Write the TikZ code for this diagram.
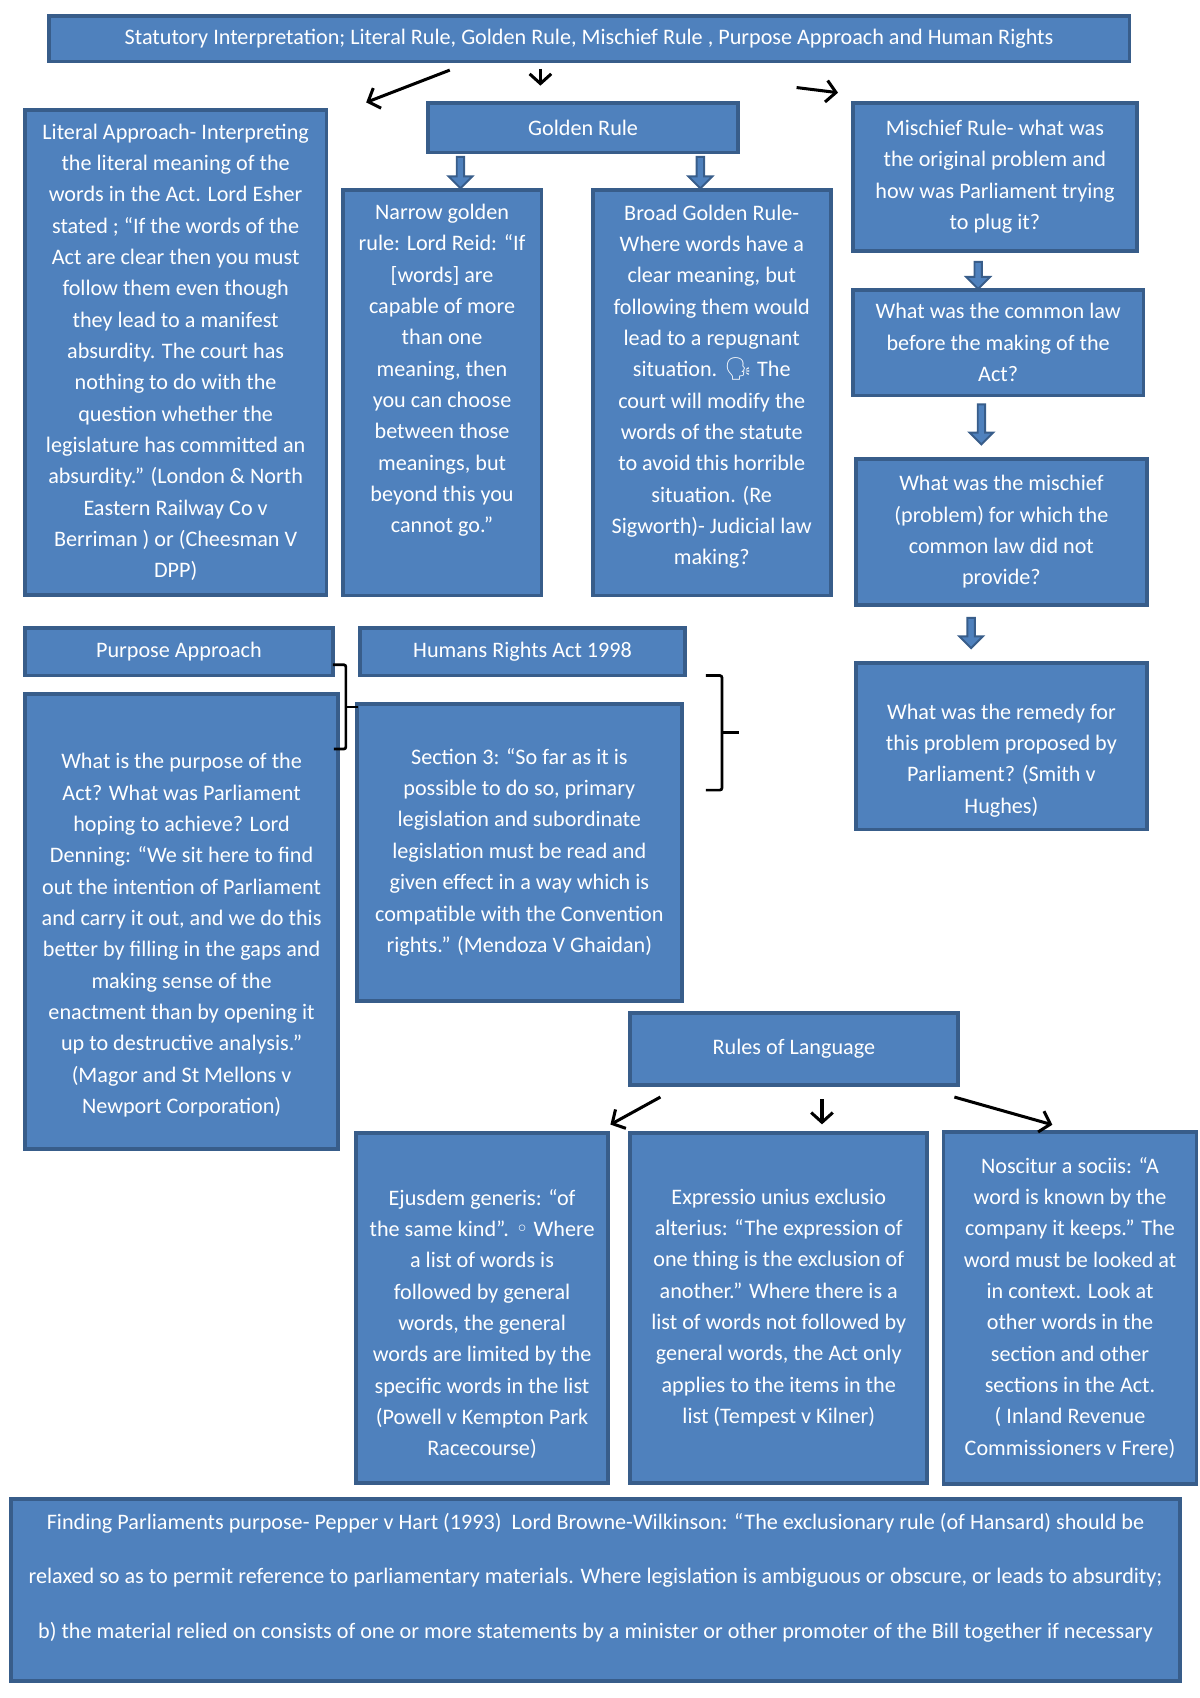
\documentclass[tikz,border=0pt]{standalone}
\usepackage{fontspec}
\setmainfont{Carlito}
\newfontfamily\emojifont{Noto Emoji}
\newfontfamily\dejavu{DejaVu Sans}
\usetikzlibrary{shapes.arrows}
\usetikzlibrary{arrows.meta}
\definecolor{boxblue}{HTML}{4F81BD}
\definecolor{boxedge}{HTML}{385D8A}

\tikzset{
	box/.style={draw=boxedge, fill=boxblue, line width=3.5pt, text=white, align=center, inner sep=0pt, font=\fontsize{20.5pt}{29pt}\selectfont},
	blockarr/.style={single arrow, shape border rotate=270, draw=boxedge, fill=boxblue, line width=1.8pt, inner sep=0pt, minimum width=22pt, single arrow head extend=2pt},
	pen/.style={line width=2.8pt, -{Straight Barb[length=9pt, width=20pt]}},
	brace/.style={line width=2.5pt, rounded corners=2pt},
}

\begin{document}
\begin{tikzpicture}[x=1pt, y=-1pt]
	\useasboundingbox (0,0) rectangle (1110,1571);
	% Boxes:
	\node[box, minimum width=1000pt, minimum height=42pt] (title) at (545,36) {Statutory Interpretation; Literal Rule, Golden Rule, Mischief Rule , Purpose Approach and Human Rights};
	\node[box, minimum width=279pt, minimum height=449pt] (literal) at (162.5,326) {Literal Approach- Interpreting\\the literal meaning of the\\words in the Act.  Lord Esher\\stated ; “If the words of the\\Act are clear then you must\\follow them even though\\they lead to a manifest\\absurdity. The court has\\nothing to do with the\\question whether the\\legislature has committed an\\absurdity.” (London \& North\\Eastern Railway Co v\\Berriman ) or (Cheesman V\\DPP)};
	\node[box, minimum width=287pt, minimum height=46pt] (gr) at (539.5,118) {Golden Rule};
	\node[box, minimum width=184pt, minimum height=375pt] (narrow) at (409,363.5) {Narrow golden\\rule: Lord Reid: “If\\{[}words{]} are\\capable of more\\than one\\meaning, then\\you can choose\\between those\\meanings, but\\beyond this you\\cannot go.”\rule[-45pt]{0pt}{0pt}};
	\node[box, minimum width=220pt, minimum height=375pt] (broad) at (658.5,363.5) {Broad Golden Rule-\\Where words have a\\clear meaning, but\\following them would\\lead to a repugnant\\situation. {\emojifont 🗣} The\\court will modify the\\words of the statute\\to avoid this horrible\\situation. (Re\\Sigworth)- Judicial law\\making?\rule[-15pt]{0pt}{0pt}};
	\node[box, minimum width=263pt, minimum height=137pt] (mischief) at (920.5,163.5) {Mischief Rule- what was\\the original problem and\\how was Parliament trying\\to plug it?};
	\node[box, minimum width=269pt, minimum height=98pt] (common) at (923.5,317) {What was the common law\\before the making of the\\Act?};
	\node[box, minimum width=269pt, minimum height=135pt] (problem) at (926.5,492) {What was the mischief\\(problem) for which the\\common law did not\\provide?};
	\node[box, minimum width=269pt, minimum height=154pt] (remedy) at (926.5,690.5) {\rule{0pt}{40pt}What was the remedy for\\this problem proposed by\\Parliament? (Smith v\\Hughes)};
	\node[box, minimum width=285pt, minimum height=44pt] (purpose) at (165.5,603) {Purpose Approach};
	\node[box, minimum width=301pt, minimum height=44pt] (hra) at (483.5,603) {Humans Rights Act 1998};
	\node[box, minimum width=290pt, minimum height=421pt] (purptext) at (168,852.5) {\rule{0pt}{40pt}What is the purpose of the\\Act? What was Parliament\\hoping to achieve? Lord\\Denning: “We sit here to find\\out the intention of Parliament\\and carry it out, and we do this\\better by filling in the gaps and\\making sense of the\\enactment than by opening it\\up to destructive analysis.”\\(Magor and St Mellons v\\Newport Corporation)};
	\node[box, minimum width=301pt, minimum height=275pt] (sect) at (480.5,788.5) {Section 3: “So far as it is\\possible to do so, primary\\legislation and subordinate\\legislation must be read and\\given effect in a way which is\\compatible with the Convention\\rights.” (Mendoza V Ghaidan)};
	\node[box, minimum width=303pt, minimum height=66pt] (rol) at (734.5,970.5) {Rules of Language};
	\node[box, minimum width=233pt, minimum height=324pt] (ejus) at (446,1210) {\rule{0pt}{45pt}Ejusdem generis: “of\\the same kind”. {\dejavu ◦} Where\\a list of words is\\followed by general\\words, the general\\words are limited by the\\specific words in the list\\(Powell v Kempton Park\\Racecourse)};
	\node[box, minimum width=275pt, minimum height=324pt] (expr) at (720.5,1210) {Expressio unius exclusio\\alterius: “The expression of\\one thing is the exclusion of\\another.” Where there is a\\list of words not followed by\\general words, the Act only\\applies to the items in the\\list (Tempest v Kilner)};
	\node[box, minimum width=234pt, minimum height=326pt] (nosc) at (990,1210) {Noscitur a sociis: “A\\word is known by the\\company it keeps.” The\\word must be looked at\\in context. Look at\\other words in the\\section and other\\sections in the Act.\\( Inland Revenue\\Commissioners v Frere)};
	\node[box, minimum width=1082pt, minimum height=168pt, font=\fontsize{20.5pt}{50pt}\selectfont] (finding) at (551,1471) {Finding Parliaments purpose- Pepper v Hart (1993)~ Lord Browne-Wilkinson: “The exclusionary rule (of Hansard) should be\\relaxed so as to permit reference to parliamentary materials. Where legislation is ambiguous or obscure, or leads to absurdity;\\b) the material relied on consists of one or more statements by a minister or other promoter of the Bill together if necessary\rule[-26pt]{0pt}{0pt}};
	% Block arrows:
	\node[blockarr, minimum height=29pt] (ga1) at (426,158) {};
	\node[blockarr, minimum height=29pt] (ga2) at (648,158) {};
	\node[blockarr, minimum height=25pt] (ma1) at (905,253) {};
	\node[blockarr, minimum height=37pt] (ma2) at (908,391) {};
	\node[blockarr, minimum height=28pt] (ma3) at (898.5,584) {};
	% Pen arrows:
	\coordinate (mis0) at (737,81);
	\coordinate (rl0) at (611,1015);
	\coordinate (rl2) at (883,1015);
	\draw[pen, shorten <=17pt, shorten >=14pt] ([xshift=-113pt]title.south) -- ([xshift=22pt]literal.north east);
	\draw[pen, shorten <=5pt, shorten >=14pt] ([xshift=-45pt]title.south) -- ([xshift=-39.5pt]gr.north);
	\draw[pen, shorten >=12pt] (mis0) -- ([yshift=6pt]mischief.north west);
	\draw[pen, shorten >=12pt] (rl0) -- ([xshift=-10pt]ejus.north east);
	\draw[pen, shorten <=12pt, shorten >=6pt] ([xshift=26pt]rol.south) -- ([xshift=40pt]expr.north);
	\draw[pen, shorten >=17pt] (rl2) -- (nosc.north);
	% Brackets:
	\draw[brace] (308,615) -- (320,615) -- (320,693) -- (309,693);
	\draw[brace] (320,654) -- (331,654);
	\draw[brace] (653,625) -- (668,625) -- (668,731) -- (653,731);
	\draw[brace] (668,678) -- (684,678);
\end{tikzpicture}
\end{document}
